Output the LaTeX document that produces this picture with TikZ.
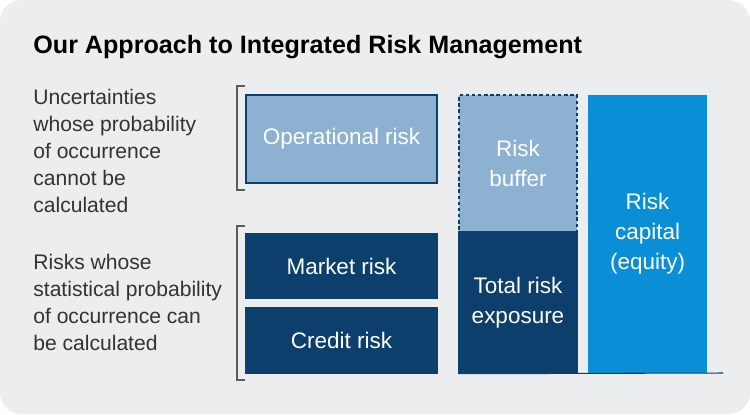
\documentclass[tikz,border=0pt]{standalone}
\usepackage{fontspec}
\setmainfont{Liberation Sans}
\definecolor{bgGray}{HTML}{ECEDEF}
\definecolor{darkBlue}{HTML}{0C3F6C}
\definecolor{lightBlue}{HTML}{8DB1D1}
\definecolor{brightBlue}{HTML}{0A8FD6}
\definecolor{textGray}{HTML}{333333}
\tikzset{
  box/.style = {draw=darkBlue, line width=0.8pt, text=white, align=center,
                font=\fontsize{12.8}{17}\selectfont, inner sep=0pt},
  darkbox/.style = {box, fill=darkBlue},
  lightbox/.style = {box, fill=lightBlue},
  note/.style = {anchor=north west, align=left, text=textGray, inner sep=0pt,
                 font=\fontsize{12}{15.4}\selectfont},
  brace/.style = {draw=textGray!80, line width=0.6pt}
}
\begin{document}
\begin{tikzpicture}[x=0.02cm, y=-0.02cm]
\useasboundingbox (0,0) rectangle (750,414);
\fill[bgGray, rounded corners=12pt] (0,0) rectangle (750,414);

% title
\node (title) [anchor=west, inner sep=0pt, text=black, font=\bfseries\fontsize{14.3}{16}\selectfont] at (33,47)
  {Our Approach to Integrated Risk Management};

% left notes
\node (noteTop) [note] at (33,89) {Uncertainties\\whose probability\\of occurrence\\cannot be\\calculated};
\node (noteBot) [note] at (33,254) {Risks whose\\statistical probability\\of occurrence can\\be calculated};

% brackets
\draw[brace] (245,86) -- (237,86) -- (237,190) -- (245,190);
\draw[brace] (245,226) -- (237,226) -- (237,380) -- (245,380);

% boxes
\node (oper) [lightbox, minimum width=191*0.02cm, minimum height=88*0.02cm] at (341.5,139) {Operational risk};
\node (market) [darkbox, minimum width=191*0.02cm, minimum height=64*0.02cm] at (341.5,266) {Market risk};
\node (credit) [darkbox, minimum width=191*0.02cm, minimum height=65*0.02cm] at (341.5,340.5) {Credit risk};
\node (buffer) [lightbox, dash pattern=on 2pt off 1.5pt, line width=1pt, minimum width=118*0.02cm, minimum height=137*0.02cm] at (518,163.5) {Risk\\buffer};
\node (total) [darkbox, minimum width=118*0.02cm, minimum height=141*0.02cm] at (518,302.5) {Total risk\\exposure};
\node (capital) [box, draw=none, fill=brightBlue, minimum width=119*0.02cm, minimum height=278*0.02cm] at (647.5,234) {Risk\\capital\\(equity)};

% baseline
\draw[darkBlue, line width=0.6pt] (total.south west) -- (723,373);
\end{tikzpicture}
\end{document}
